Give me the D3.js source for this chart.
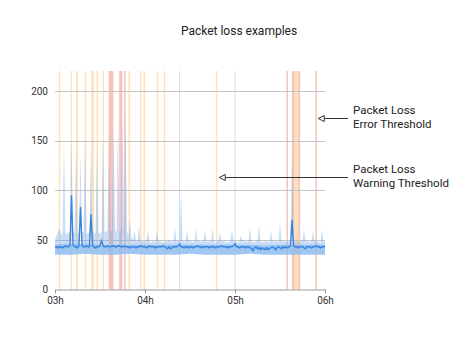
<!DOCTYPE html>
<html><head><meta charset="utf-8">
<script src="https://cdn.jsdelivr.net/npm/d3@7"></script>
<style>body{margin:0;background:#fff;} svg{display:block;font-family:Roboto,"Noto Sans",sans-serif;}</style>
</head><body><svg id="c" width="474" height="355"></svg>
<script>
// ---- data ----
const title = "Packet loss examples";
const xTickVals = [0, 60, 120, 180];           // minutes after 03:00
const xTickLabels = ["03h", "04h", "05h", "06h"];
const yTickVals = [0, 50, 100, 150, 200];

// mean packet loss per minute (t = 0..180)
const meanVals = [
 43,43,42,43,43,42,43,44,43,43,
 44,95,45,43,43,42,44,83,44,43,
 43,44,43,43,76,44,43,42,43,43,
 44,49,44,43,43,44,43,43,44,44,
 43,43,44,44,43,43,44,43,43,43,
 42,43,43,43,42,43,43,44,43,43,
 43,42,43,44,43,43,43,42,43,43,
 43,43,44,43,42,41,43,41,42,43,
 43,43,44,46,43,43,42,43,43,42,
 43,43,42,43,43,44,43,43,42,43,
 43,43,43,42,43,43,43,42,43,43,
 43,44,43,43,43,42,43,43,43,44,
 46,43,43,42,43,43,43,42,43,43,
 42,41,39,42,43,41,42,40,42,41,
 40,42,40,41,42,43,42,40,42,43,
 42,41,43,42,43,42,43,44,70,44,
 43,43,42,43,43,43,42,41,43,43,
 43,42,43,43,44,43,43,42,43,43,
 43];
// max packet loss per minute
const maxVals = [
 50,54,58,62,56,55,148,57,55,58,
 56,150,58,57,140,58,56,135,58,58,
 150,57,56,58,145,58,57,56,140,58,
 56,58,150,57,58,60,160,58,59,165,
 60,58,170,59,60,175,58,180,58,55,
 70,52,50,60,49,48,65,48,49,48,
 48,49,60,48,47,49,48,48,58,48,
 49,48,47,48,49,48,50,48,48,49,
 62,48,49,48,100,49,48,48,60,48,
 49,48,48,47,62,48,49,48,48,49,
 60,48,48,49,48,62,48,47,48,49,
 58,48,49,48,48,47,48,49,60,48,
 49,48,47,48,55,48,49,48,48,49,
 62,48,48,47,49,48,65,48,47,48,
 48,49,48,47,60,48,49,48,49,47,
 68,48,49,48,48,49,48,50,140,49,
 48,49,48,47,49,48,62,48,49,48,
 48,49,58,48,49,48,48,47,60,48,
 48];
// typical range band (every 10 minutes)
const bandT    = [0,10,20,30,40,50,60,70,80,90,100,110,120,130,140,150,160,170,180];
const bandLow  = [35,35,36,35,35,36,35,35,35,36,35,35,35,36,35,35,35,35,35];
const bandHigh = [45,46,46,45,45,45,45,45,45,45,45,45,45,45,44,45,45,45,45];

// threshold events (minutes after 03:00)
const warnStart = [2.5, 10.4, 14.0, 19.8, 24.2, 27.7, 31.7, 49.0, 56.8, 59.0, 67.7, 72.5, 107.3, 159.5];
const warnEnd   = [3.5, 11.4, 15.3, 20.8, 26.0, 28.7, 32.7, 50.0, 57.8, 60.0, 68.7, 73.5, 108.3, 162.2];
const errStart  = [35.8, 42.8, 46.0, 154.3, 158.0, 162.2, 173.6];
const errEnd    = [38.9, 44.8, 47.0, 155.3, 159.5, 163.4, 174.6];
const infoT     = [83, 120];

const annoLabels = [["Packet Loss", "Error Threshold"], ["Packet Loss", "Warning Threshold"]];
const annoTipT = [175.5, 109.5];
const annoTipV = [173, 113];

// ---- drawing ----
const svg = d3.select("#c");
const x = d3.scaleLinear().domain([0, 180]).range([55, 325]);
const y = d3.scaleLinear().domain([0, 220]).range([289.5, 71]);

svg.append("text").attr("x", 239).attr("y", 35).attr("text-anchor", "middle")
  .attr("font-size", 12).attr("fill", "#222").text(title);

// event bands
const gEv = svg.append("g");
gEv.selectAll("rect.w").data(warnStart).join("rect").attr("class", "w")
  .attr("x", (d) => x(d)).attr("width", (d, i) => x(warnEnd[i]) - x(d))
  .attr("y", y(220)).attr("height", y(0) - y(220))
  .attr("fill", "#fbcf8e").attr("opacity", 0.6);
gEv.selectAll("rect.e").data(errStart).join("rect").attr("class", "e")
  .attr("x", (d) => x(d)).attr("width", (d, i) => x(errEnd[i]) - x(d))
  .attr("y", y(220)).attr("height", y(0) - y(220))
  .attr("fill", "#f29a8c").attr("opacity", 0.6);
gEv.selectAll("line.i").data(infoT).join("line").attr("class", "i")
  .attr("x1", (d) => x(d)).attr("x2", (d) => x(d))
  .attr("y1", y(220)).attr("y2", y(0))
  .attr("stroke", "#b9d3f3").attr("stroke-width", 1).attr("opacity", 0.7);

// grid
svg.append("g").selectAll("line").data(yTickVals.filter(d => d > 0)).join("line")
  .attr("x1", x(0)).attr("x2", x(180))
  .attr("y1", d => Math.round(y(d)) + 0.5).attr("y2", d => Math.round(y(d)) + 0.5)
  .attr("stroke", "#c4c4c4").attr("stroke-width", 1);

// max spikes
const tIdx = d3.range(meanVals.length);
svg.append("path").datum(tIdx)
  .attr("d", d3.area().x(i => x(i)).y0(i => y(meanVals[i])).y1(i => y(maxVals[i])))
  .attr("fill", "#6fa6ea").attr("opacity", 0.38);

// band
svg.append("path").datum(d3.range(bandT.length))
  .attr("d", d3.area().curve(d3.curveMonotoneX).x(i => x(bandT[i])).y0(i => y(bandLow[i])).y1(i => y(bandHigh[i])))
  .attr("fill", "#8fbcf0").attr("opacity", 0.85);

// mean line
svg.append("path").datum(tIdx)
  .attr("d", d3.line().x(i => x(i)).y(i => y(meanVals[i])))
  .attr("fill", "none").attr("stroke", "#3584e0").attr("stroke-width", 1.4);

// axes
const xa = svg.append("g").attr("transform", `translate(0,${y(0)})`)
  .call(d3.axisBottom(x).tickValues(xTickVals).tickFormat((d, i) => xTickLabels[i]).tickSize(4).tickSizeOuter(0).tickPadding(3));
xa.select(".domain").attr("stroke", "#999");
xa.selectAll(".tick line").attr("stroke", "#999");
xa.selectAll("text").attr("font-size", 10).attr("fill", "#333").attr("font-family", "Roboto");

const ya = svg.append("g").attr("transform", `translate(${x(0)},0)`)
  .call(d3.axisLeft(y).tickValues(yTickVals).tickSize(0).tickPadding(7));
ya.select(".domain").remove();
ya.selectAll("text").attr("font-size", 10).attr("fill", "#333").attr("font-family", "Roboto");

// annotations
const gA = svg.append("g");
annoLabels.forEach((lines, k) => {
  const tx = x(annoTipT[k]), ty = Math.round(y(annoTipV[k])) + 0.5;
  gA.append("line").attr("x1", tx + 6).attr("x2", 348).attr("y1", ty).attr("y2", ty)
    .attr("stroke", "#333").attr("stroke-width", 1);
  gA.append("path").attr("d", `M${tx},${ty}L${tx + 6},${ty - 3}L${tx + 6},${ty + 3}Z`)
    .attr("fill", "#fff").attr("stroke", "#333").attr("stroke-width", 1);
  lines.forEach((s, j) => {
    gA.append("text").attr("x", 353).attr("y", ty - 4.5 + j * 13.5)
      .attr("font-size", 11.5).attr("fill", "#222").text(s);
  });
});
</script></body></html>
